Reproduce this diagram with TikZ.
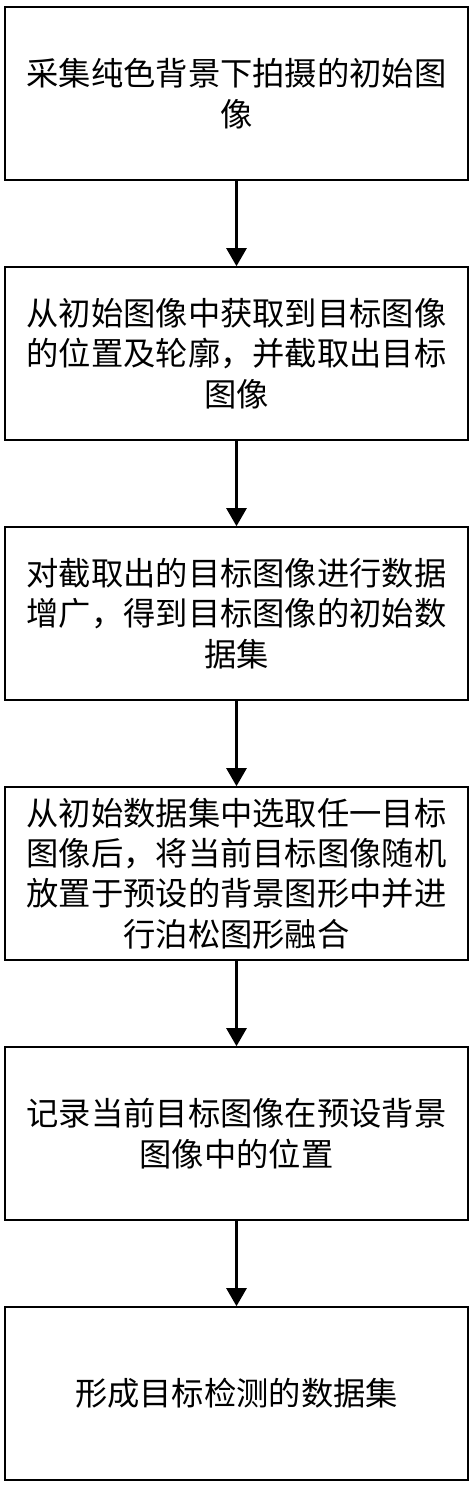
\documentclass[tikz,border=0pt]{standalone}
\usepackage{fontspec}
\newfontfamily\cjk{Noto Sans CJK SC}
\usetikzlibrary{arrows.meta}

\begin{document}
\begin{tikzpicture}[x=1pt,y=1pt,
  box/.style={draw,line width=1.6pt,minimum width=463pt,minimum height=173pt,inner sep=0pt,align=center,font={\cjk\fontsize{32.3}{40.3}\selectfont}},
  flow/.style={line width=2.6pt,-{Triangle[length=18pt,width=20pt]}}]
\useasboundingbox (0,0) rectangle (474,-1487);
\node [box] (n1) at (236.5,-93.5) {采集纯色背景下拍摄的初始图\\像};
\node [box] (n2) at (236.5,-353.5) {从初始图像中获取到目标图像\\的位置及轮廓，并截取出目标\\图像};
\node [box] (n3) at (236.5,-613.5) {对截取出的目标图像进行数据\\增广，得到目标图像的初始数\\据集};
\node [box] (n4) at (236.5,-873.5) {从初始数据集中选取任一目标\\图像后，将当前目标图像随机\\放置于预设的背景图形中并进\\行泊松图形融合};
\node [box] (n5) at (236.5,-1133.5) {记录当前目标图像在预设背景\\图像中的位置};
\node [box] (n6) at (236.5,-1393.5) {形成目标检测的数据集};
\draw [flow] (n1) -- (n2);
\draw [flow] (n2) -- (n3);
\draw [flow] (n3) -- (n4);
\draw [flow] (n4) -- (n5);
\draw [flow] (n5) -- (n6);
\end{tikzpicture}
\end{document}
